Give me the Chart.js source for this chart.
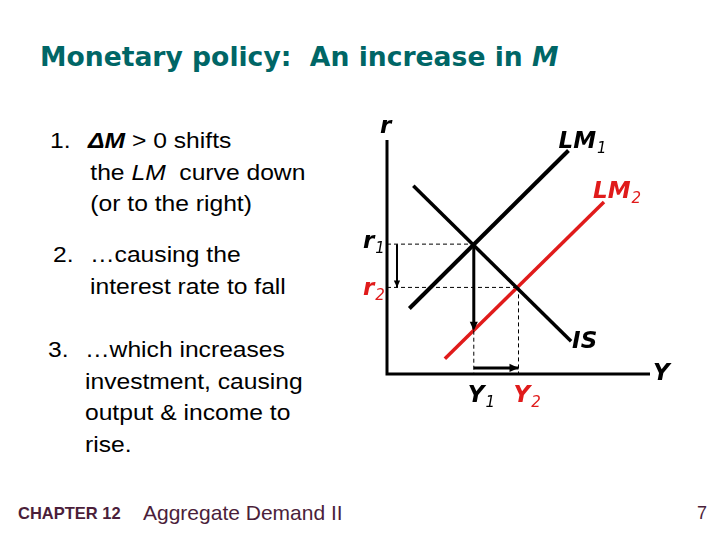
<!DOCTYPE html>
<html>
<head>
<meta charset="utf-8">
<script src="https://cdn.jsdelivr.net/npm/chart.js@4.4.1/dist/chart.umd.min.js"></script>
<style>
    body { margin: 0; width: 720px; height: 540px; background: #fff; position: relative; overflow: hidden; }
    .title { position: absolute; left: 40px; top: 41px; font: bold 27px "DejaVu Sans", Verdana, sans-serif; color: #006666; white-space: nowrap; transform: scaleX(0.985); transform-origin: left top; }
    .item { position: absolute; font: 22px "Liberation Sans", Arial, sans-serif; line-height: 31.6px; color: #000; white-space: nowrap; transform: scaleX(1.12); transform-origin: left top; }
    .item .n { display: inline-block; }
    .foot { position: absolute; color: #4b1e3a; white-space: nowrap; font-family: "Liberation Sans Narrow", "Arial Narrow", "Liberation Sans", sans-serif; }
    #chartBox { position: absolute; left: 340px; top: 100px; width: 360px; height: 320px; }
</style>
</head>
<body>
<div class="title">Monetary policy:&nbsp; An increase in <i>M</i></div>

<div class="item" style="left:50px; top:125px;">
    <span class="n" style="width:34px">1.</span><b><i>ΔM</i></b> &gt; 0 shifts<br>
    <span style="padding-left:36px">the <i>LM</i>&nbsp; curve down</span><br>
    <span style="padding-left:36px">(or to the right)</span>
</div>
<div class="item" style="left:53px; top:239px;">
    <span class="n" style="width:33px">2.</span>…causing the<br>
    <span style="padding-left:33px">interest rate to fall</span>
</div>
<div class="item" style="left:48px; top:334px;">
    <span class="n" style="width:33px">3.</span>…which increases<br>
    <span style="padding-left:33px">investment, causing</span><br>
    <span style="padding-left:33px">output &amp; income to</span><br>
    <span style="padding-left:33px">rise.</span>
</div>

<div class="foot" style="left:18px; top:504px; font-size:16.5px; font-weight:bold;">CHAPTER 12</div>
<div class="foot" style="left:143px; top:501px; font-size:21px;">Aggregate Demand II</div>
<div class="foot" style="left:697px; top:503px; font-size:18px;">7</div>

<div id="chartBox"><canvas id="islm" width="360" height="320"></canvas></div>

<script>
// income (Y) and interest rate (r) values, axes run 0..10
const lm1Y = [0.85, 6.9];
const lm1R = [2.8, 9.55];
const lm2Y = [2.2, 8.25];
const lm2R = [0.65, 7.35];
const isY = [1.0, 7.0];
const isR = [8.05, 1.4];
const eqY = [3.3, 5.0];   // Y1, Y2
const eqR = [5.55, 3.7];  // r1, r2
const dropEndR = 1.85;    // where the Y1 arrow meets LM2
const rArrowY = 0.38;     // down arrow beside the r axis
const yArrowR = 0.26;     // right arrow above the Y axis

const RED = '#e01b1b';

function seg(xs, ys) {
    return xs.map((x, i) => ({ x: x, y: ys[i] }));
}

function lineSet(data, color, width, extra) {
    return Object.assign({
        data: data,
        showLine: true,
        borderColor: color,
        backgroundColor: color,
        borderWidth: width,
        pointRadius: 0,
        tension: 0
    }, extra || {});
}

const dashed = { borderDash: [4, 3] };

const datasets = [
    lineSet(seg([0, eqY[0]], [eqR[0], eqR[0]]), '#000', 1, dashed),
    lineSet(seg([0, eqY[1]], [eqR[1], eqR[1]]), '#000', 1, dashed),
    lineSet(seg([eqY[0], eqY[0]], [dropEndR, 0]), '#000', 1, dashed),
    lineSet(seg([eqY[1], eqY[1]], [eqR[1], 0]), '#000', 1, dashed),
    lineSet(seg(lm1Y, lm1R), '#000', 4),
    lineSet(seg(isY, isR), '#000', 3.5),
    lineSet(seg(lm2Y, lm2R), RED, 3.5),
    lineSet(seg([rArrowY, rArrowY], [eqR[0], eqR[1]]), '#000', 2, { arrow: 7 }),
    lineSet(seg([eqY[0], eqY[0]], [eqR[0], dropEndR]), '#000', 3, { arrow: 9 }),
    lineSet(seg([eqY[0], eqY[1]], [yArrowR, yArrowR]), '#000', 3, { arrow: 9 })
];

// axis labels: text, subscript, anchor in data units, pixel nudge
const labels = [
    { t: 'r',  s: '',  c: '#000', at: [0, 10],        dx: -7,  dy: -7 },
    { t: 'LM', s: '1', c: '#000', at: [lm1Y[1], lm1R[1]], dx: -10, dy: -3 },
    { t: 'LM', s: '2', c: RED,    at: [lm2Y[1], lm2R[1]], dx: -11, dy: -4 },
    { t: 'IS', s: '',  c: '#000', at: [isY[1], isR[1]],   dx: 1,   dy: 7 },
    { t: 'Y',  s: '',  c: '#000', at: [10, 0],        dx: 3,   dy: 6 },
    { t: 'r',  s: '1', c: '#000', at: [0, eqR[0]],    dx: -24, dy: 4 },
    { t: 'r',  s: '2', c: RED,    at: [0, eqR[1]],    dx: -24, dy: 8 },
    { t: 'Y',  s: '1', c: '#000', at: [eqY[0], 0],    dx: -6,  dy: 28 },
    { t: 'Y',  s: '2', c: RED,    at: [eqY[1], 0],    dx: -5,  dy: 28 }
];

const axesPlugin = {
    id: 'axes',
    beforeDatasetsDraw(chart) {
        const a = chart.chartArea;
        const ctx = chart.ctx;
        ctx.save();
        ctx.strokeStyle = '#000';
        ctx.lineWidth = 3;
        ctx.beginPath();
        ctx.moveTo(a.left, a.top);
        ctx.lineTo(a.left, a.bottom);
        ctx.lineTo(a.right, a.bottom);
        ctx.stroke();
        ctx.restore();
    }
};

const arrowPlugin = {
    id: 'arrows',
    afterDatasetsDraw(chart) {
        const ctx = chart.ctx;
        chart.data.datasets.forEach((ds, i) => {
            if (!ds.arrow) return;
            const pts = chart.getDatasetMeta(i).data;
            const p0 = pts[pts.length - 2], p1 = pts[pts.length - 1];
            const ang = Math.atan2(p1.y - p0.y, p1.x - p0.x);
            const len = ds.arrow, half = ds.arrow * 0.45;
            ctx.save();
            ctx.fillStyle = ds.borderColor;
            ctx.translate(p1.x, p1.y);
            ctx.rotate(ang);
            ctx.beginPath();
            ctx.moveTo(0, 0);
            ctx.lineTo(-len, -half);
            ctx.lineTo(-len, half);
            ctx.closePath();
            ctx.fill();
            ctx.restore();
        });
    }
};

const labelPlugin = {
    id: 'labels',
    afterDraw(chart) {
        const ctx = chart.ctx;
        const xs = chart.scales.x, ys = chart.scales.y;
        ctx.save();
        ctx.textBaseline = 'alphabetic';
        labels.forEach(l => {
            const x = xs.getPixelForValue(l.at[0]) + l.dx;
            const y = ys.getPixelForValue(l.at[1]) + l.dy;
            ctx.fillStyle = l.c;
            ctx.font = 'italic bold 23px "DejaVu Sans", Verdana, sans-serif';
            ctx.fillText(l.t, x, y);
            if (l.s) {
                const w = ctx.measureText(l.t).width;
                ctx.font = 'italic 15px "DejaVu Sans", Verdana, sans-serif';
                ctx.fillText(l.s, x + w + 1, y + 5);
            }
        });
        ctx.restore();
    }
};

new Chart(document.getElementById('islm').getContext('2d'), {
    type: 'scatter',
    data: { datasets: datasets },
    options: {
        responsive: false,
        animation: false,
        layout: { padding: { left: 47, right: 50, top: 40, bottom: 46 } },
        plugins: { legend: { display: false }, tooltip: { enabled: false } },
        scales: {
            x: { type: 'linear', min: 0, max: 10, display: false },
            y: { type: 'linear', min: 0, max: 10, display: false }
        }
    },
    plugins: [axesPlugin, arrowPlugin, labelPlugin]
});
</script>
</body>
</html>
